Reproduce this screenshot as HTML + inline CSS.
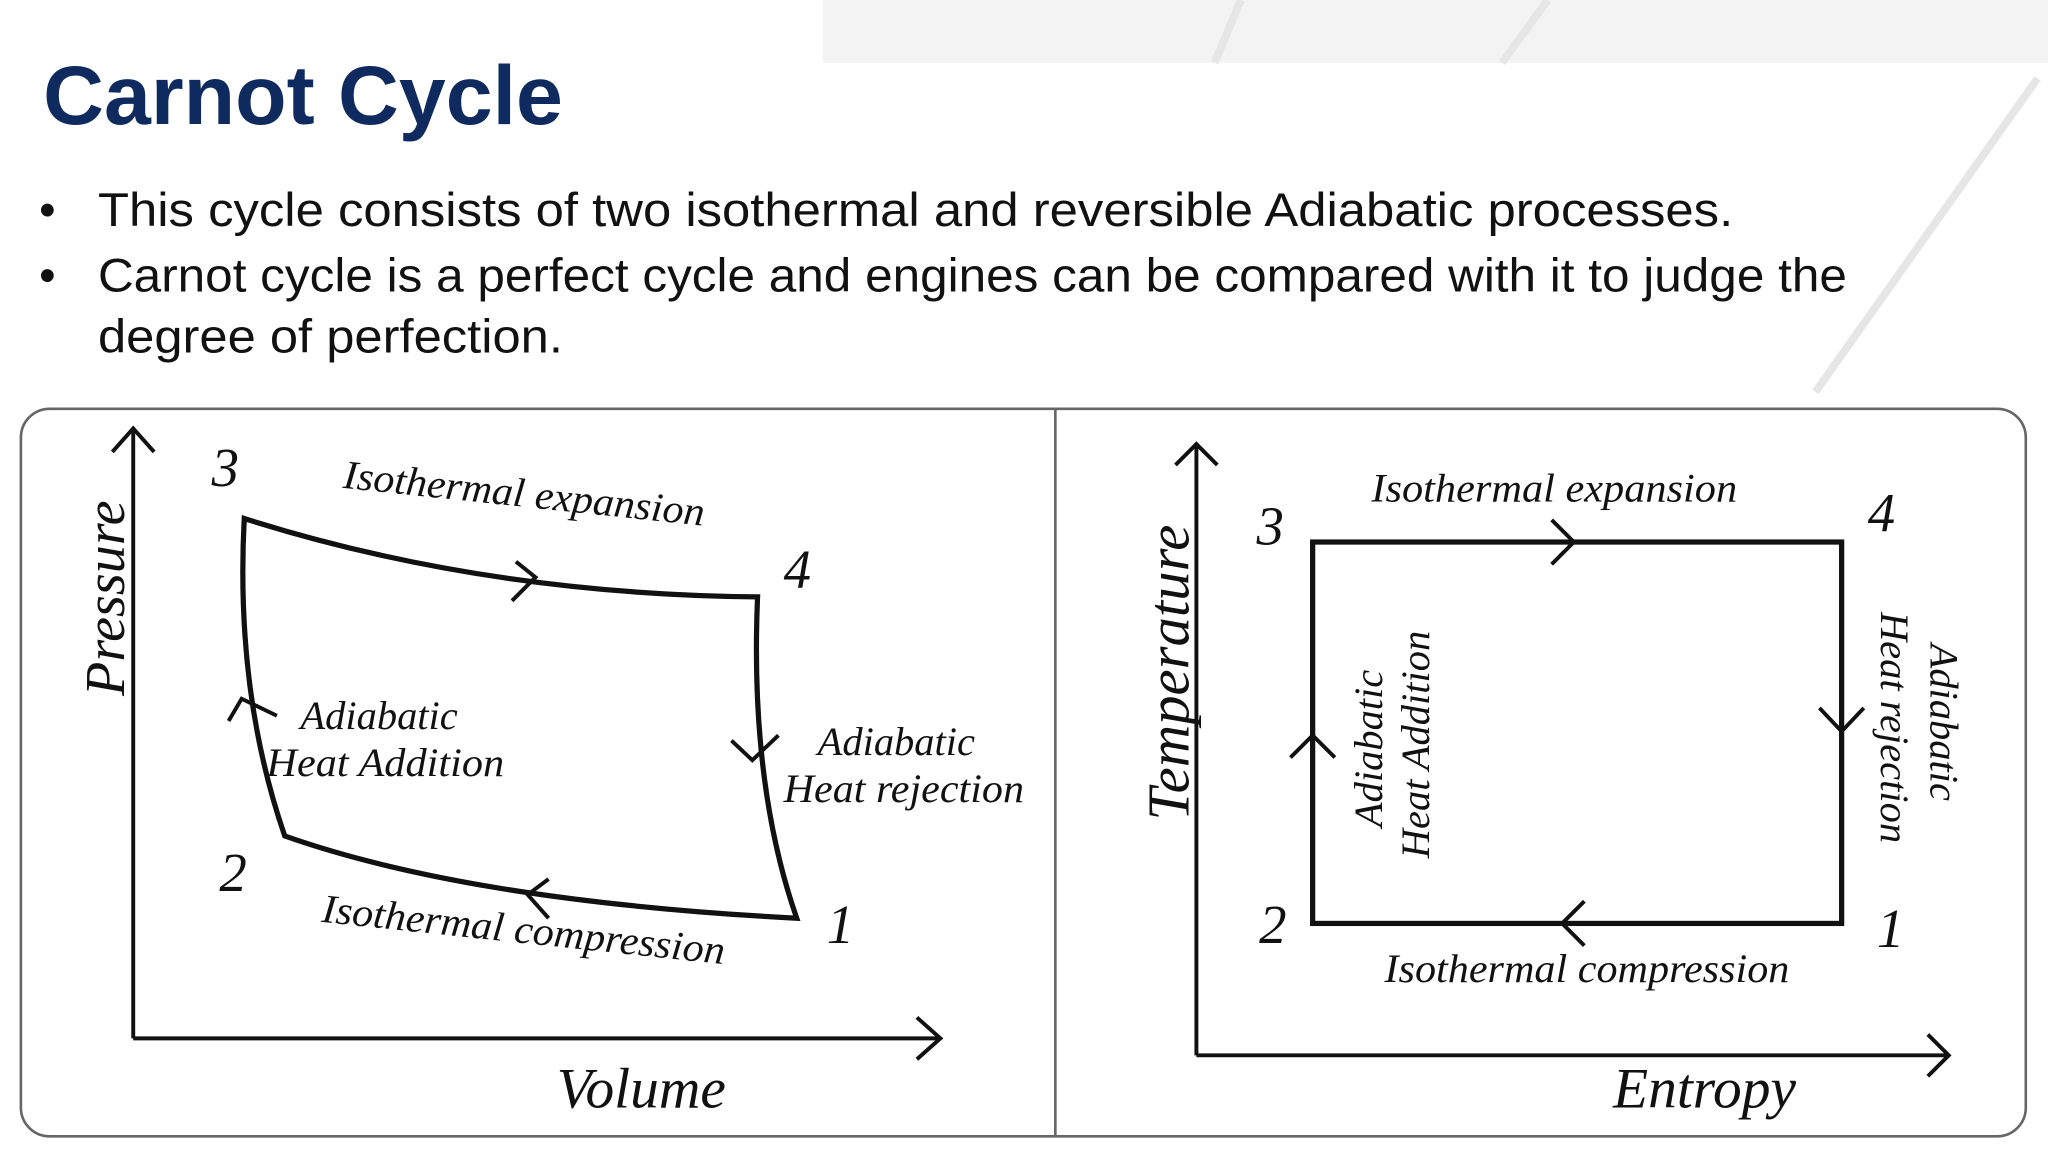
<!DOCTYPE html>
<html><head><meta charset="utf-8"><style>
html,body{margin:0;padding:0;background:#fff;width:2048px;height:1152px;overflow:hidden}
svg{display:block}
.s{font-family:"Liberation Serif",serif;font-style:italic;fill:#111}
</style></head><body>
<svg width="2048" height="1152" viewBox="0 0 1568 882" xmlns="http://www.w3.org/2000/svg">
<rect width="1568" height="882" fill="#fff"/>
<rect x="630" y="0" width="938" height="48" fill="#f3f3f3"/>
<g stroke="#e6e6e6" stroke-width="6" fill="none">
<line x1="930" y1="48" x2="950" y2="0"/><line x1="1150" y1="48" x2="1185" y2="0"/>
<line x1="1390" y1="300" x2="1560" y2="60"/>
</g>
<text x="33" y="95" font-family="Liberation Sans,sans-serif" font-weight="bold" font-size="64" fill="#0f2a5e" textLength="398" lengthAdjust="spacingAndGlyphs">Carnot Cycle</text>
<g font-family="Liberation Sans,sans-serif" font-size="36" fill="#111">
<text x="30" y="173">•</text><text x="75" y="173" textLength="1252" lengthAdjust="spacingAndGlyphs">This cycle consists of two isothermal and reversible Adiabatic processes.</text>
<text x="30" y="223">•</text><text x="75" y="223" textLength="1339" lengthAdjust="spacingAndGlyphs">Carnot cycle is a perfect cycle and engines can be compared with it to judge the</text>
<text x="75" y="270" textLength="356" lengthAdjust="spacingAndGlyphs">degree of perfection.</text>
</g>
<rect x="16" y="313" width="1535" height="557" rx="22" fill="#fff" stroke="#666" stroke-width="2"/>
<line x1="808" y1="313" x2="808" y2="870" stroke="#666" stroke-width="2"/>
<g stroke="#111" stroke-width="3" fill="none">
<polyline points="102,795 102,328"/><polyline points="86,346 102,328 118,346"/>
<polyline points="102,795 720,795"/><polyline points="702,779 720,795 702,811"/>
<path d="M187,397 Q370,455 580,457 Q574,600 610,703 Q360,690 218,640 Q180,530 187,397 Z" stroke-width="4"/>
<polyline points="395,430 410,442 392,460"/>
<polyline points="560,567 576,582 596,563"/>
<polyline points="420,673 404,685 420,703"/>
<polyline points="175,552 185,535 212,548"/>
<polyline points="916,808 916,340"/><polyline points="900,356 916,340 932,356"/>
<polyline points="916,808 1492,808"/><polyline points="1476,792 1492,808 1476,824"/>
<rect x="1005" y="415" width="405" height="292" stroke-width="4"/>
<polyline points="1188,398 1205,415 1188,432"/>
<polyline points="1393,542 1410,560 1427,542"/>
<polyline points="1213,690 1196,707 1213,724"/>
<polyline points="988,580 1005,563 1022,580"/>
</g>
<g class="s">
<text x="162" y="372" font-size="42" class="s">3</text>
<text x="600" y="450" font-size="42" class="s">4</text>
<text x="633" y="722" font-size="42" class="s">1</text>
<text x="168" y="682" font-size="42" class="s">2</text>
<text x="260" y="388" font-size="31" transform="rotate(6 400 400)" textLength="278" lengthAdjust="spacingAndGlyphs">Isothermal expansion</text>
<text x="244" y="722" font-size="31" transform="rotate(6 400 730)" textLength="310" lengthAdjust="spacingAndGlyphs">Isothermal compression</text>
<text x="230" y="558" font-size="31">Adiabatic</text>
<text x="204" y="594" font-size="31" textLength="182" lengthAdjust="spacingAndGlyphs">Heat Addition</text>
<text x="626" y="578" font-size="31">Adiabatic</text>
<text x="600" y="614" font-size="31" textLength="184" lengthAdjust="spacingAndGlyphs">Heat rejection</text>
<text x="95" y="458" font-size="43" text-anchor="middle" transform="rotate(-90 95 458)">Pressure</text>
<text x="491" y="848" font-size="44" text-anchor="middle">Volume</text>
<text x="962" y="417" font-size="42">3</text>
<text x="1430" y="407" font-size="42">4</text>
<text x="1437" y="725" font-size="42">1</text>
<text x="964" y="722" font-size="42">2</text>
<text x="1190" y="384" font-size="31" text-anchor="middle" textLength="280" lengthAdjust="spacingAndGlyphs">Isothermal expansion</text>
<text x="1215" y="752" font-size="31" text-anchor="middle" textLength="310" lengthAdjust="spacingAndGlyphs">Isothermal compression</text>
<text x="1058" y="573" font-size="31" text-anchor="middle" transform="rotate(-90 1058 573)">Adiabatic</text>
<text x="1094" y="570" font-size="31" text-anchor="middle" transform="rotate(-90 1094 570)">Heat Addition</text>
<text x="1478" y="553" font-size="31" text-anchor="middle" transform="rotate(90 1478 553)">Adiabatic</text>
<text x="1440" y="557" font-size="31" text-anchor="middle" transform="rotate(90 1440 557)">Heat rejection</text>
<text x="910" y="515" font-size="45" text-anchor="middle" transform="rotate(-90 910 515)">Temperature</text>
<text x="1305" y="848" font-size="44" text-anchor="middle">Entropy</text>
</g>
</svg>
</body></html>
